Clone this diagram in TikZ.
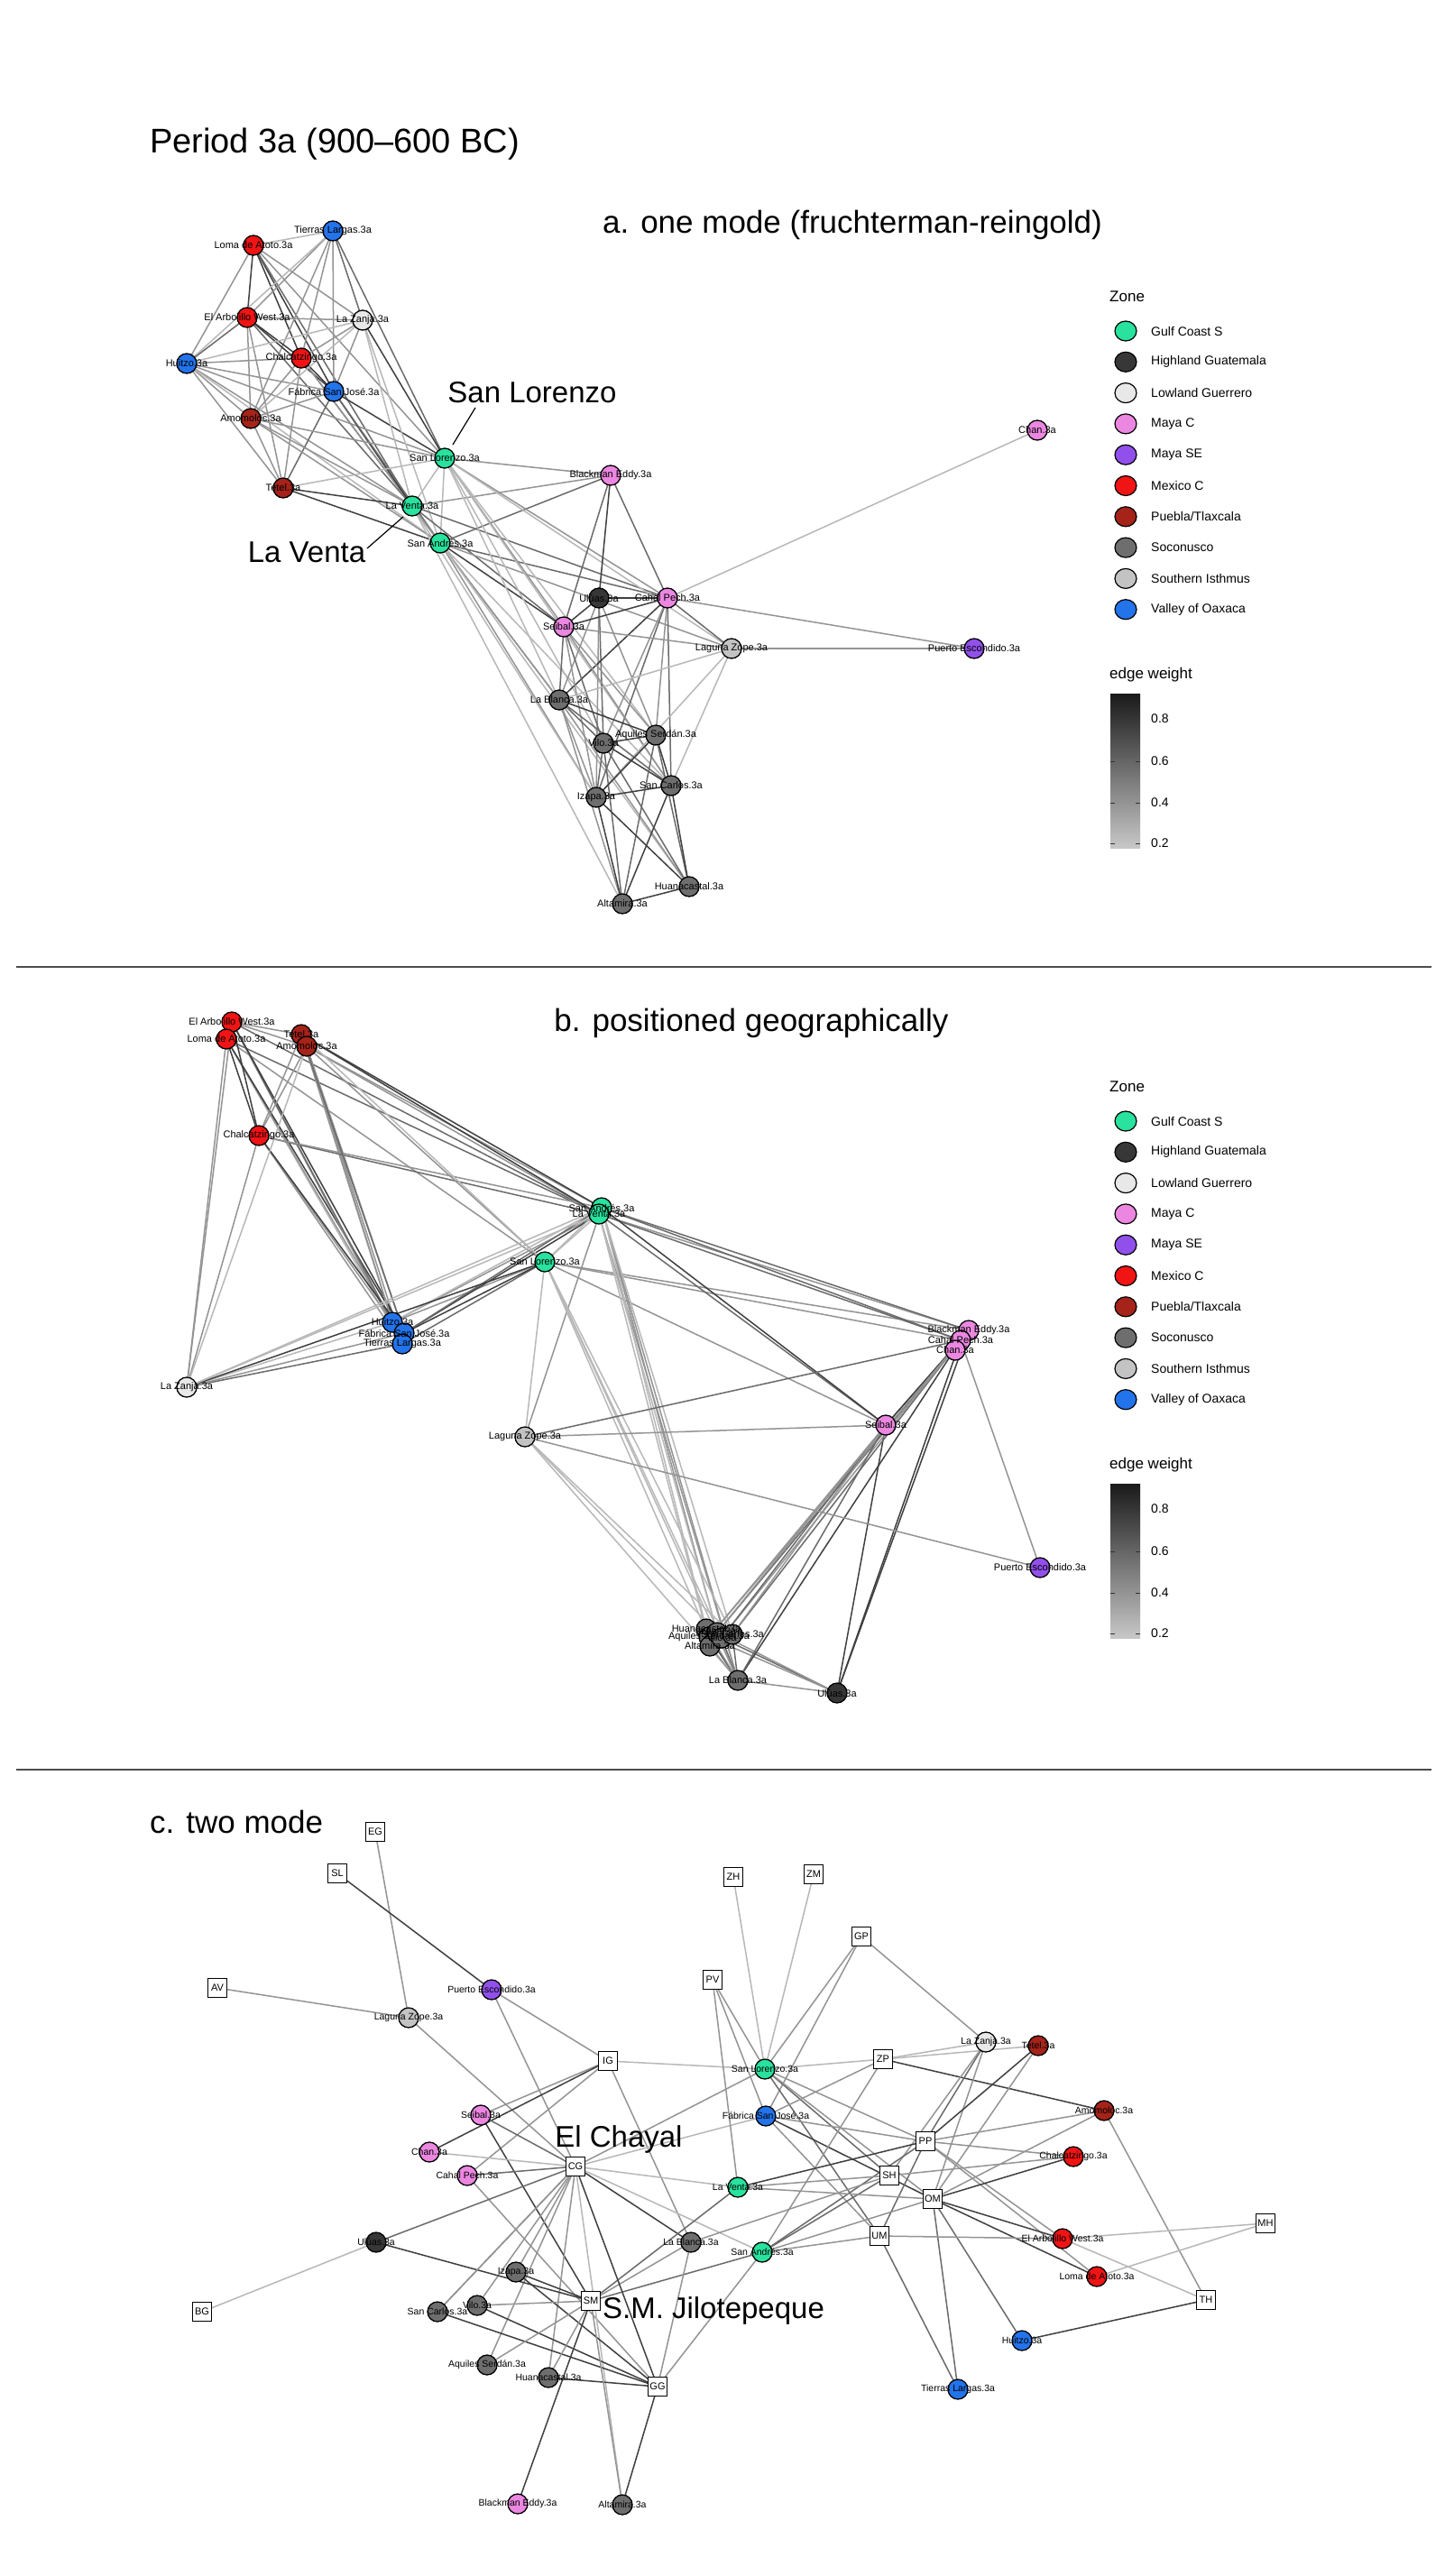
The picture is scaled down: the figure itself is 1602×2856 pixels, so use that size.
\documentclass[tikz,border=0pt]{standalone}
\usepackage{fontspec}
\setmainfont{Liberation Sans}
\pgfdeclarelayer{bg}
\pgfdeclarelayer{edges}
\pgfsetlayers{bg,edges,main}
\definecolor{gcs}{RGB}{40,226,158}
\definecolor{hgu}{RGB}{55,55,55}
\definecolor{lgu}{RGB}{232,232,232}
\definecolor{myc}{RGB}{235,135,225}
\definecolor{mse}{RGB}{145,80,235}
\definecolor{mxc}{RGB}{240,20,20}
\definecolor{ptl}{RGB}{165,35,25}
\definecolor{soc}{RGB}{110,110,110}
\definecolor{sis}{RGB}{195,195,195}
\definecolor{vox}{RGB}{35,115,235}
\tikzset{
  site/.style={circle,draw=black,line width=1.3pt,minimum size=22pt,inner sep=0pt},
  srcbox/.style={rectangle,draw=black,line width=1.3pt,fill=white,minimum size=21pt,inner sep=0.5pt,font=\fontsize{11}{11}\selectfont},
  lab/.style={inner sep=0pt,font=\fontsize{11}{11}\selectfont},
  labc/.style={inner sep=0pt,font=\fontsize{10.5}{10.5}\selectfont},
  e1/.style={draw=black!28,line width=1.5pt},
  e2/.style={draw=black!42,line width=1.5pt},
  e3/.style={draw=black!58,line width=1.5pt},
  e4/.style={draw=black!75,line width=1.5pt},
  bigtxt/.style={inner sep=0pt,font=\fontsize{33}{33}\selectfont},
  sectitle/.style={inner sep=0pt,font=\fontsize{35}{35}\selectfont},
  legtxt/.style={inner sep=0pt,anchor=west,font=\fontsize{14}{14}\selectfont},
  legtitle/.style={inner sep=0pt,anchor=west,font=\fontsize{17}{17}\selectfont},
  legdot/.style={ellipse,draw=black,line width=1.2pt,minimum width=24pt,minimum height=22pt,inner sep=0pt},
  sepline/.style={draw=black!70,line width=1.6pt}
}
\usetikzlibrary{shapes.geometric}
\def\nodesA{TL/369/256/vox/Tierras Largas.3a,LA/281/272/mxc/Loma de Atoto.3a,EA/274/352/mxc/El Arbolillo West.3a,LZ/402/355/lgu/La Zanja.3a,HU/207/403/vox/Huitzo.3a,CH/334/397/mxc/Chalcatzingo.3a,FSJ/370/434/vox/Fábrica San José.3a,AM/278/464/ptl/Amomoloc.3a,TE/314/541/ptl/Tetel.3a,SLo/493/508/gcs/San Lorenzo.3a,LV/457/561/gcs/La Venta.3a,SA/488/602/gcs/San Andrés.3a,BE/677/527/myc/Blackman Eddy.3a,CN/1150/477/myc/Chan.3a,UL/664/663/hgu/Ulúas.3a,CP/740/663/myc/Cahal Pech.3a,SE/625/695/myc/Seibal.3a,LZo/811/719/sis/Laguna Zope.3a,PE/1080/719/mse/Puerto Escondido.3a,LB/620/776/soc/La Blanca.3a,AS/727/815/soc/Aquiles Serdán.3a,VI/669/824/soc/Vilo.3a,SC/744/871/soc/San Carlos.3a,IZ/661/884/soc/Izapa.3a,HN/764/983/soc/Huanacastal.3a,AL/690/1002/soc/Altamira.3a}
\def\nodesB{EA/257/1133/mxc/El Arbolillo West.3a,LA/251/1152/mxc/Loma de Atoto.3a,TE/334/1147/ptl/Tetel.3a,AM/340/1160/ptl/Amomoloc.3a,CH/287/1259/mxc/Chalcatzingo.3a,SA/667/1339/gcs/San Andrés.3a,LV/664/1346/gcs/La Venta.3a,SLo/604/1399/gcs/San Lorenzo.3a,HU/435/1466/vox/Huitzo.3a,FSJ/448/1478/vox/Fábrica San José.3a,TL/446/1490/vox/Tierras Largas.3a,LZ/207/1538/lgu/La Zanja.3a,LZo/582/1593/sis/Laguna Zope.3a,BE/1074/1475/myc/Blackman Eddy.3a,CP/1065/1486/myc/Cahal Pech.3a,CN/1059/1497/myc/Chan.3a,SE/982/1580/myc/Seibal.3a,PE/1153/1738/mse/Puerto Escondido.3a,HN/783/1806/soc/Huanacastal.3a,AS/786/1815/soc/Aquiles Serdán.3a,AL/787/1825/soc/Altamira.3a,IZ/795/1810/soc/Izapa.3a,VI/800/1816/soc/Vilo.3a,SC/812/1812/soc/San Carlos.3a,LB/818/1863/soc/La Blanca.3a,UL/928/1877/hgu/Ulúas.3a}
\def\edgesAB{LA/TL/1,LA/EA/4,LA/HU/2,LA/CH/4,LA/FSJ/4,LA/LZ/2,LA/SLo/2,LA/LV/3,TL/EA/2,TL/CH/2,TL/FSJ/2,TL/LZ/3,TL/SLo/3,TL/AM/2,TL/HU/1,EA/LZ/2,EA/HU/3,EA/CH/4,EA/AM/2,EA/TE/2,EA/FSJ/4,EA/LV/3,HU/CH/2,HU/LZ/1,HU/FSJ/2,HU/AM/2,HU/TE/2,HU/SLo/2,HU/LV/2,HU/SA/1,CH/LZ/2,CH/FSJ/4,CH/AM/2,CH/TE/2,CH/LV/3,CH/SA/2,FSJ/LZ/2,FSJ/AM/2,FSJ/TE/3,FSJ/SLo/4,FSJ/LV/4,FSJ/SA/3,LZ/SLo/4,LZ/LV/1,LZ/SA/1,LZ/AM/1,AM/TE/2,AM/SLo/2,AM/LV/2,AM/SA/2,TE/SLo/1,TE/LV/4,TE/SA/4,SLo/LV/1,SLo/SA/1,LV/SA/3,SLo/BE/2,LV/BE/2,SA/BE/3,SLo/CP/2,LV/CP/3,SA/CP/3,SLo/SE/2,LV/SE/3,SA/SE/4,SLo/LZo/1,SA/LZo/2,SLo/LB/1,LV/LB/2,SA/LB/2,SLo/VI/1,SA/IZ/2,LV/IZ/1,SLo/AS/1,SA/SC/1,LV/AL/1,SA/HN/1,SLo/SC/1,BE/UL/4,BE/SE/3,BE/CP/3,UL/CP/4,UL/SE/4,UL/VI/3,UL/AS/2,UL/IZ/2,UL/LB/2,CP/SE/4,CP/LZo/3,CP/PE/2,CP/CN/1,CP/LB/4,CP/IZ/3,CP/AS/2,CP/SC/3,CP/VI/2,SE/LZo/2,SE/LB/3,SE/VI/3,SE/AS/2,SE/SC/2,SE/IZ/2,LZo/PE/2,LZo/LB/1,LZo/SC/1,LZo/IZ/1,LB/AS/4,LB/VI/3,LB/SC/3,LB/IZ/2,LB/AL/2,LB/HN/2,VI/AS/4,VI/SC/4,VI/IZ/3,VI/AL/3,VI/HN/3,AS/IZ/4,AS/SC/4,AS/AL/3,AS/HN/3,IZ/SC/4,IZ/AL/4,IZ/HN/4,SC/AL/4,SC/HN/4,AL/HN/4}
\def\sitesC{PE/545/2206/mse/Puerto Escondido.3a,LZo/453/2237/sis/Laguna Zope.3a,SE/533/2345/myc/Seibal.3a,CN/476/2386/myc/Chan.3a,CP/518/2412/myc/Cahal Pech.3a,UL/417/2486/hgu/Ulúas.3a,LB/766/2486/soc/La Blanca.3a,IZ/572/2519/soc/Izapa.3a,VI/529/2556/soc/Vilo.3a,SC/485/2563/soc/San Carlos.3a,AS/540/2622/soc/Aquiles Serdán.3a,HN/608/2636/soc/Huanacastal.3a,BE/574/2776/myc/Blackman Eddy.3a,AL/690/2777/soc/Altamira.3a,LZ/1093/2264/lgu/La Zanja.3a,TE/1151/2268/ptl/Tetel.3a,SLo/848/2294/gcs/San Lorenzo.3a,FSJ/849/2346/vox/Fábrica San José.3a,AM/1224/2340/ptl/Amomoloc.3a,CH/1190/2391/mxc/Chalcatzingo.3a,LV/818/2425/gcs/La Venta.3a,EA/1178/2482/mxc/El Arbolillo West.3a,SA/845/2497/gcs/San Andrés.3a,LA/1216/2524/mxc/Loma de Atoto.3a,HU/1133/2595/vox/Huitzo.3a,TL/1062/2649/vox/Tierras Largas.3a}
\def\srcC{EG/416/2031,SL/374/2077,AV/241/2204,IG/674/2285,CG/638/2402,BG/224/2563,SM/655/2551,GG/729/2646,ZH/813/2081,ZM/902/2078,GP/955/2147,PV/790/2195,ZP/979/2283,PP/1026/2374,SH/986/2412,OM/1034/2438,UM/975/2479,MH/1403/2465,TH/1337/2550}
\def\edgesC{EG/LZo/2,SL/PE/4,AV/LZo/2,IG/PE/2,CG/PE/2,CG/LZo/2,IG/SE/2,IG/CN/4,IG/CP/2,IG/SLo/1,IG/LB/2,CG/SE/3,SM/SE/4,CG/CN/1,CG/CP/3,GG/CP/2,CG/LB/4,CG/VI/2,CG/IZ/2,CG/AS/2,CG/HN/2,CG/SC/2,CG/AL/1,CG/UL/3,SM/UL/4,BG/UL/1,CG/SLo/2,CG/FSJ/1,CG/LV/1,CG/SA/1,ZH/SLo/1,ZM/SLo/1,GP/SLo/2,GP/FSJ/2,GP/LZ/2,PV/SLo/2,PV/FSJ/2,PV/LV/2,ZP/SLo/1,PP/SLo/2,SH/SLo/3,OM/SLo/2,UM/SLo/3,PP/FSJ/2,OM/FSJ/4,UM/FSJ/2,ZP/FSJ/2,ZP/LZ/1,ZP/AM/4,ZP/SA/2,ZP/TE/1,PP/LZ/3,SH/LZ/2,OM/LZ/2,PP/TE/4,OM/TE/2,PP/AM/2,OM/AM/2,TH/AM/2,PP/LV/4,PP/CH/2,PP/SA/3,UM/PP/3,PP/EA/2,PP/LA/2,SH/CH/2,OM/CH/4,SH/LV/2,SH/SA/3,SH/LB/2,OM/LV/2,OM/EA/4,OM/LA/4,OM/HU/3,OM/TL/3,OM/SA/2,UM/SA/2,UM/EA/2,UM/TL/3,MH/EA/1,MH/LA/1,TH/EA/1,TH/HU/4,SM/LV/3,GG/SA/2,SM/SA/3,SM/LB/2,GG/LB/2,SM/IZ/4,GG/IZ/4,SM/VI/2,GG/VI/4,GG/SC/4,CG/SC/2,SM/AS/2,GG/HN/4,SM/HN/2,SM/BE/4,SM/AL/2,GG/AL/4,CG/GG/4}
\def\zones{gcs/Gulf Coast S,hgu/Highland Guatemala,lgu/Lowland Guerrero,myc/Maya C,mse/Maya SE,mxc/Mexico C,ptl/{Puebla/Tlaxcala},soc/Soconusco,sis/Southern Isthmus,vox/Valley of Oaxaca}
\begin{document}
\begin{tikzpicture}[x=1pt,y=-1pt]
\begin{pgfonlayer}{bg}
\fill[white] (0,0) rectangle (1602,2856);
\end{pgfonlayer}
\useasboundingbox (0,0) rectangle (1602,2856);
% titles
\node[anchor=west,inner sep=0pt,font=\fontsize{38}{38}\selectfont] (title) at (166,160) {Period 3a (900–600 BC)};
\node[sectitle] (ta) at (945,249) {a. one mode (fruchterman-reingold)};
\node[sectitle] (tb) at (833,1134) {b. positioned geographically};
\node[sectitle,anchor=west] (tc) at (166,2020) {c. two mode};
% separators
\coordinate (s1l) at (18,1072); \coordinate (s1r) at (1587,1072);
\coordinate (s2l) at (18,1962); \coordinate (s2r) at (1587,1962);
\draw[sepline] (s1l) -- (s1r);
\draw[sepline] (s2l) -- (s2r);
% ---------- panel a ----------
\foreach \n/\x/\y/\z/\t in \nodesA { \node[site,fill=\z] (a\n) at (\x,\y) {}; }
\begin{pgfonlayer}{edges}
\foreach \u/\v/\w in \edgesAB { \draw[e\w] (a\u.center) -- (a\v.center); }
\end{pgfonlayer}
\foreach \n/\x/\y/\z/\t in \nodesA { \node[lab] at (a\n) {\t}; }
\node[bigtxt] (bigSL) at (590,435) {San Lorenzo};
\node[bigtxt] (bigLV) at (340,612) {La Venta};
\coordinate (ldSL) at (502,493); \coordinate (ldLV) at (447,573);
\coordinate (ldSLa) at (527,452); \coordinate (ldLVa) at (407,608);
\draw[line width=1.2pt] (ldSLa) -- (ldSL);
\draw[line width=1.2pt] (ldLVa) -- (ldLV);
% ---------- panel b ----------
\foreach \n/\x/\y/\z/\t in \nodesB { \node[site,fill=\z] (b\n) at (\x,\y) {}; }
\begin{pgfonlayer}{edges}
\foreach \u/\v/\w in \edgesAB { \draw[e\w] (b\u.center) -- (b\v.center); }
\end{pgfonlayer}
\foreach \n/\x/\y/\z/\t in \nodesB { \node[lab] at (b\n) {\t}; }
% ---------- legends ----------
\foreach \dy/\p in {0/a,876/b} {
  \node[legtitle] (zone\p) at (1230,329+\dy) {Zone};
  \foreach \c/\t [count=\i from 0] in \zones {
    \node[legdot,fill=\c] (ld\p\i) at (1248,367+\i*34.3+\dy) {};
    \node[legtxt] (lt\p\i) at (1276,367+\i*34.3+\dy) {\t};
  }
  \node[legtitle] (ewt\p) at (1230,748+\dy) {edge weight};
  \shade[top color=black!90,bottom color=black!22] (1231,769+\dy) rectangle (1264,940+\dy);
  \foreach \yy/\tt in {797/0.8,844/0.6,890/0.4,935/0.2} {
    \draw[black!80,line width=1pt] (1231,\yy+\dy) -- ++(5,0);
    \draw[black!80,line width=1pt] (1264,\yy+\dy) -- ++(-5,0);
    \node[legtxt] at (1276,\yy+\dy) {\tt};
  }
}
% ---------- panel c ----------
\foreach \n/\x/\y/\z/\t in \sitesC { \node[site,fill=\z] (c\n) at (\x,\y) {}; }
\foreach \n/\x/\y in \srcC { \node[srcbox] (c\n) at (\x,\y) {\n}; }
\begin{pgfonlayer}{edges}
\foreach \u/\v/\w in \edgesC { \draw[e\w] (c\u.center) -- (c\v.center); }
\end{pgfonlayer}
\foreach \n/\x/\y/\z/\t in \sitesC { \node[labc] at (c\n) {\t}; }
\node[bigtxt] (bigCG) at (686,2372) {El Chayal};
\node[bigtxt] (bigSM) at (791,2562) {S.M. Jilotepeque};
\end{tikzpicture}
\end{document}
